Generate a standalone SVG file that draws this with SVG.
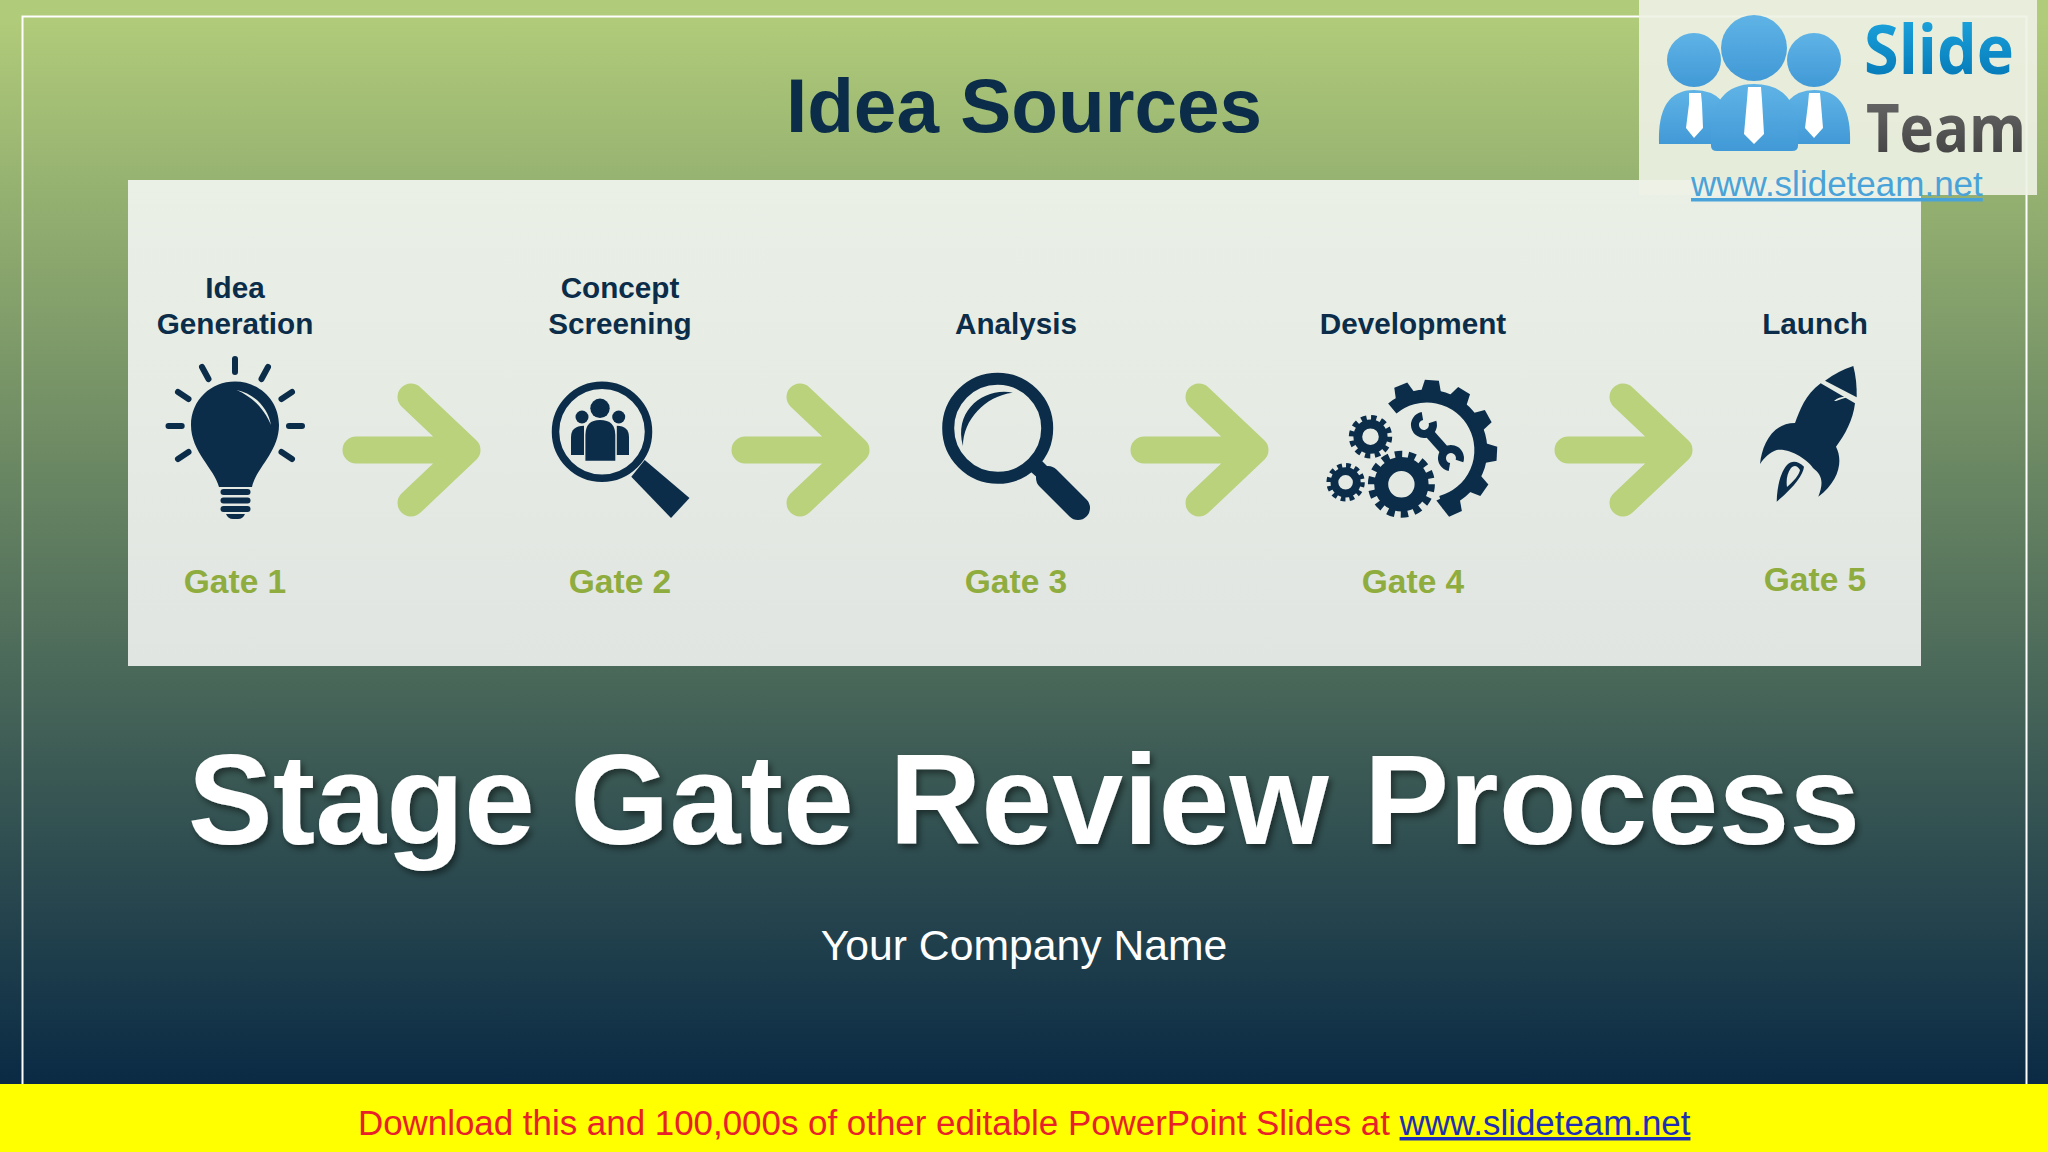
<svg xmlns="http://www.w3.org/2000/svg" width="2048" height="1152" viewBox="0 0 2048 1152">
<style>
text{font-family:"Liberation Sans",Arial,sans-serif}
.lab{font-size:29.700px;font-weight:700;fill:#0b2d4a;text-anchor:middle}
.gate{font-size:33.500px;font-weight:700;fill:#8fac3e;text-anchor:middle}
.dk{fill:#0b2d4a}
.ray{stroke:#0b2d4a;stroke-width:6;stroke-linecap:round;fill:none}
.arrow{fill:none;stroke:#b9d27b;stroke-width:27;stroke-linecap:round;stroke-linejoin:round}
.head{fill:url(#lb)}
.tie{fill:#fff}
</style>
<defs>
<linearGradient id="bg" gradientUnits="userSpaceOnUse" x1="0" y1="20" x2="0" y2="1084"><stop offset="0" stop-color="#b0cb79"/><stop offset="1" stop-color="#0a2a45"/></linearGradient>
<linearGradient id="pn" x1="0" y1="0" x2="0" y2="1"><stop offset="0" stop-color="#eaf0e6"/><stop offset="1" stop-color="#e1e5e2"/></linearGradient>
<linearGradient id="lb" x1="0" y1="0" x2="0" y2="1"><stop offset="0" stop-color="#5fb3e6"/><stop offset="1" stop-color="#4199d6"/></linearGradient>
<linearGradient id="sl" x1="0" y1="0" x2="0" y2="1"><stop offset="0" stop-color="#22aee6"/><stop offset="1" stop-color="#0070b0"/></linearGradient>
<linearGradient id="tm" x1="0" y1="0" x2="0" y2="1"><stop offset="0" stop-color="#707070"/><stop offset="1" stop-color="#3c3c3c"/></linearGradient>
<filter id="sh" x="-5%" y="-20%" width="110%" height="140%"><feDropShadow dx="3" dy="4" stdDeviation="3" flood-color="#000" flood-opacity=".45"/></filter>
<polygon id="tooth" class="dk" points="1477,438 1497,443 1497,457 1477,462"/>
<path id="arr" class="arrow" d="M356 450H467M411 397L467 450L411 503"/>
</defs>
<rect width="2048" height="1152" fill="url(#bg)"/>
<rect x="22.500" y="16.500" width="2004" height="1120" fill="none" stroke="#fff" stroke-width="2"/>
<g id="panel"><rect x="128" y="180" width="1793" height="486" fill="url(#pn)"/></g>
<text x="1024" y="132" font-size="76.500" font-weight="700" fill="#0b2d4a" text-anchor="middle">Idea Sources</text>

<g id="connectors">
<use href="#arr"/>
<use href="#arr" x="389"/>
<use href="#arr" x="788"/>
<use href="#arr" x="1212"/>
</g>

<g id="gate1">
<text class="lab" x="235" y="298">Idea</text>
<text class="lab" x="235" y="334">Generation</text>
<path class="dk" d="M219 487C214 468 191 452 191 425C191 400 211 381.500 235 381.500C259 381.500 279 400 279 425C279 452 256 468 252 487Z"/>
<path d="M236.500 390C255 394 268 408 271 425C265 410 253 397 236.500 390Z" fill="#e8ede6"/>
<g class="dk"><rect x="220.500" y="489" width="30" height="6" rx="3"/><rect x="220.500" y="497.500" width="30" height="6" rx="3"/><rect x="220.500" y="506" width="30" height="6" rx="3"/><path d="M226 514H245Q243 519 238 519H233Q228 519 226 514Z"/></g>
<path class="ray" d="M235 359V372M202 367L208.500 379M268 367L261.500 379M178 392L188.500 399M292 392L281.500 399M168.500 426H181.700M289 426H302M178 459L188.500 452M292 459L281.500 452"/>
<text class="gate" x="235" y="593">Gate 1</text>
</g>

<g id="gate2">
<text class="lab" x="620" y="298">Concept</text>
<text class="lab" x="620" y="334">Screening</text>
<circle cx="602" cy="431.700" r="46.500" fill="none" stroke="#0b2d4a" stroke-width="7.500"/>
<polygon class="dk" points="644.700,460 689.500,498 671,518 631.300,476.700"/>
<g class="dk">
<circle cx="600" cy="408.300" r="9.700"/><path d="M585.400 460.700V435Q585.400 420 600 420Q615.300 420 615.300 435V460.700Z"/>
<circle cx="582" cy="417" r="6.500"/><path d="M571 455V437Q571 426 584 425.700V455Z"/>
<circle cx="618.700" cy="417" r="6.500"/><path d="M616.800 455V425.700Q629 426 629 437V455Z"/>
</g>
<text class="gate" x="620" y="593">Gate 2</text>
</g>

<g id="gate3">
<text class="lab" x="1016" y="334">Analysis</text>
<circle cx="997.700" cy="428.300" r="49.500" fill="none" stroke="#0b2d4a" stroke-width="12"/>
<path class="dk" d="M1012.700 392.700C985 387 953 410 963 446C963 420 985 396 1012.700 392.700Z"/>
<polygon class="dk" points="1031,472 1042,461 1050,469 1040,480"/>
<path d="M1048 478L1078 508" fill="none" stroke="#0b2d4a" stroke-width="24" stroke-linecap="round"/>
<text class="gate" x="1016" y="593">Gate 3</text>
</g>

<g id="gate4">
<text class="lab" x="1413" y="334">Development</text>
<path d="M1392.300 408.600A54 54 0 1 1 1441 502.200" fill="none" stroke="#0b2d4a" stroke-width="13"/>
<g>
<use href="#tooth" transform="rotate(-112 1427 450)"/>
<use href="#tooth" transform="rotate(-86 1427 450)"/>
<use href="#tooth" transform="rotate(-58 1427 450)"/>
<use href="#tooth" transform="rotate(-29 1427 450)"/>
<use href="#tooth" transform="rotate(3 1427 450)"/>
<use href="#tooth" transform="rotate(35 1427 450)"/>
<use href="#tooth" transform="rotate(66 1427 450)"/>
</g>
<g fill="none" stroke="#0b2d4a">
<circle cx="1370.500" cy="436.700" r="12.700" stroke-width="8.800"/>
<circle cx="1370.500" cy="436.700" r="19" stroke-width="5.400" stroke-dasharray="5.400 4.550"/>
<circle cx="1345.600" cy="482.300" r="11.200" stroke-width="7.800"/>
<circle cx="1345.600" cy="482.300" r="16.700" stroke-width="5" stroke-dasharray="4.700 4.040"/>
<circle cx="1401.400" cy="484.300" r="20.200" stroke-width="14"/>
<circle cx="1401.400" cy="484.300" r="29.500" stroke-width="8" stroke-dasharray="7.200 6.040"/>
<path d="M1432.500 422A9 9 0 1 1 1422.400 416" stroke-width="8"/>
<path d="M1449.400 467A9 9 0 1 1 1459.500 461" stroke-width="8"/>
<path d="M1430 434L1446 452" stroke-width="10"/>
</g>
<text class="gate" x="1413" y="593">Gate 4</text>
</g>

<g id="gate5">
<text class="lab" x="1815" y="334">Launch</text>
<path class="dk" d="M1825 380.700Q1838 371 1853.300 366Q1857 380 1856.700 397.300Z"/>
<path class="dk" d="M1820.700 383.300L1855 403.300C1853 420 1845 435 1836 446.700C1843 460 1840 480 1818.300 496.700C1824 482 1822 475 1813 468C1808 460 1790 448 1776.700 450C1770 452 1764 458 1760 464C1762 445 1772 423 1795 423C1800 410 1805 395 1820.700 383.300Z"/>
<path d="M1834 401Q1840 396 1848 397Q1841 399 1836 401Z" fill="#e8ede6"/>
<path class="dk" d="M1776.700 501.700C1777 488 1780 473 1787 465C1792 460 1798 461 1804 466.700C1803 475 1795 486 1776.700 501.700ZM1791 468C1787 473 1786 481 1787 487C1794 481 1799 475 1800 470C1797 465 1794 465 1791 468Z" fill-rule="evenodd"/>
<text class="gate" x="1815" y="591">Gate 5</text>
</g>

<text x="1024" y="844" font-size="127.500" font-weight="700" fill="#fff" text-anchor="middle" filter="url(#sh)">Stage Gate Review Process</text>
<text x="1024" y="960" font-size="42.700" fill="#fff" text-anchor="middle">Your Company Name</text>

<g id="logo">
<rect x="1639" y="0" width="398" height="195" fill="#eef2e6" fill-opacity=".9"/>
<path class="head" d="M1659 144Q1657 90 1694 90Q1712 90 1722 101L1740 144Z"/>
<path class="head" d="M1788 101Q1798 90 1814 90Q1852 90 1850 144H1770Z"/>
<path class="head" d="M1711 146Q1708 84 1754 84Q1802 84 1798 146Q1798 151 1792 151H1717Q1711 151 1711 146Z"/>
<circle class="head" cx="1694" cy="60" r="27"/><circle class="head" cx="1814" cy="60" r="27"/><circle class="head" cx="1754" cy="48" r="33"/>
<polygon class="tie" points="1689,93 1701,93 1702,104 1703,128 1694,138 1686,128 1689,104"/>
<polygon class="tie" points="1748,87 1761,87 1762,100 1764,134 1754,144 1744,134 1747,100"/>
<polygon class="tie" points="1809,93 1820,93 1821,104 1823,128 1814,138 1805,128 1808,104"/>
<text x="1864" y="74" font-size="68" font-weight="700" fill="url(#sl)" textLength="150" lengthAdjust="spacingAndGlyphs" style="font-family:'Open Sans',sans-serif">Slide</text>
<text x="1866" y="152" font-size="66" font-weight="700" fill="url(#tm)" textLength="160" lengthAdjust="spacingAndGlyphs" style="font-family:'Open Sans',sans-serif">Team</text>
<text x="1691" y="196" font-size="35" fill="#4aa3d8" text-decoration="underline">www.slideteam.net</text>
</g>

<rect x="0" y="1084" width="2048" height="68" fill="#ffff00"/>
<text x="358" y="1135" font-size="34.900" fill="#e8202a">Download this and 100,000s of other editable PowerPoint Slides at <tspan fill="#1f2fb5" text-decoration="underline">www.slideteam.net</tspan></text>
</svg>
